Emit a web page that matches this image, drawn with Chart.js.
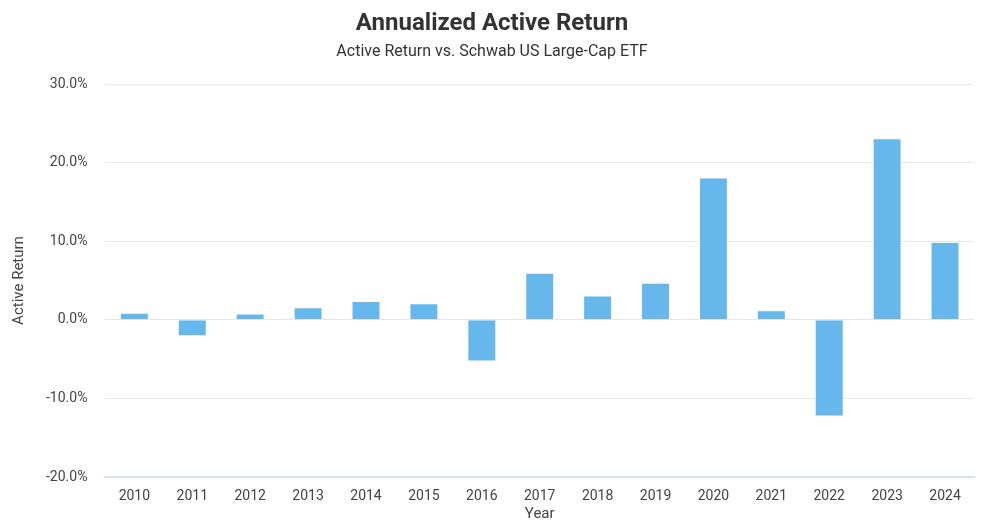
<!DOCTYPE html>
<html>
<head>
<meta charset="utf-8">
<script src="https://cdn.jsdelivr.net/npm/chart.js@4.4.1/dist/chart.umd.min.js"></script>
<style>
    html, body { margin: 0; padding: 0; background: #fff; }
    #wrap { width: 984px; height: 524px; }
</style>
</head>
<body>
<div id="wrap"><canvas id="activeChart"></canvas></div>
<script>
// years on the x axis
var years = ['2010', '2011', '2012', '2013', '2014', '2015', '2016', '2017',
    '2018', '2019', '2020', '2021', '2022', '2023', '2024'];

// active return per year, in percent
var activeReturn = [0.9, -2.1, 0.8, 1.6, 2.4, 2.1, -5.3, 6.0,
    3.1, 4.7, 18.1, 1.2, -12.3, 23.1, 9.9];

var yMin = -20;
var yMax = 30;
var yStep = 10;

Chart.defaults.font.family = 'Roboto, "Noto Sans", sans-serif';
Chart.defaults.color = '#555';

var ctx = document.getElementById('activeChart').getContext('2d');

new Chart(ctx, {
    type: 'bar',
    data: {
        labels: years,
        datasets: [{
            label: 'Active Return',
            data: activeReturn,
            backgroundColor: '#65b7ec',
            borderColor: '#ffffff',
            borderWidth: 1,
            categoryPercentage: 1.0,
            barPercentage: 0.5
        }]
    },
    options: {
        responsive: true,
        maintainAspectRatio: false,
        animation: false,
        layout: {
            padding: {left: 10, right: 10, top: 10, bottom: 2}
        },
        plugins: {
            legend: {display: false},
            tooltip: {enabled: false},
            title: {
                display: true,
                text: 'Annualized Active Return',
                color: '#333',
                font: {size: 24, weight: 'bold'},
                padding: {top: 0, bottom: 4}
            },
            subtitle: {
                display: true,
                text: 'Active Return vs. Schwab US Large-Cap ETF',
                color: '#333',
                font: {size: 16},
                padding: {top: 0, bottom: 22}
            }
        },
        scales: {
            x: {
                grid: {display: false, drawTicks: false},
                border: {display: true, color: '#d9e3ef', width: 2},
                ticks: {color: '#444', font: {size: 14, lineHeight: 1}, padding: 12},
                title: {
                    display: true,
                    text: 'Year',
                    color: '#444',
                    font: {size: 15, lineHeight: 1},
                    padding: {top: -8, bottom: 0}
                }
            },
            y: {
                min: yMin,
                max: yMax,
                border: {display: false},
                grid: {color: '#e6e6e6', lineWidth: 1, drawTicks: false},
                ticks: {
                    stepSize: yStep,
                    color: '#444',
                    font: {size: 14},
                    padding: 18,
                    callback: function (v) {
                        return v.toFixed(1) + '%';
                    }
                },
                title: {
                    display: true,
                    text: 'Active Return',
                    color: '#444',
                    font: {size: 15},
                    padding: {top: 0, bottom: 0}
                }
            }
        }
    }
});
</script>
</body>
</html>
